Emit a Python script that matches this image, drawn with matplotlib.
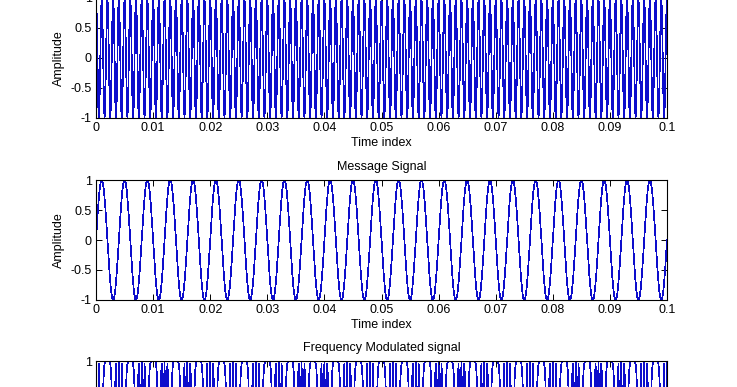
import matplotlib
matplotlib.use("Agg")
import matplotlib.pyplot as plt
import numpy as np

# signal parameters
fs = 10000         # samples per second
t_end = 0.1        # seconds shown
fc = 1000          # carrier frequency
fm = 250           # message frequency (25 cycles in 0.1 s)
beta = 4           # modulation index

x_ticks = [0, 0.01, 0.02, 0.03, 0.04, 0.05, 0.06, 0.07, 0.08, 0.09, 0.1]
x_labels = ["0", "0.01", "0.02", "0.03", "0.04", "0.05", "0.06", "0.07", "0.08", "0.09", "0.1"]
y_ticks = [-1, -0.5, 0, 0.5, 1]
y_labels = ["-1", "-0.5", "0", "0.5", "1"]
titles = [None, "Message Signal", "Frequency Modulated signal"]  # top title is above the crop

t = np.arange(0, t_end + 1 / fs / 2, 1 / fs)
carrier = np.cos(2 * np.pi * fc * t)
message = np.sin(2 * np.pi * fm * t)
fm_sig = np.cos(2 * np.pi * fc * t + beta * np.sin(2 * np.pi * fm * t))
signals = [carrier, message, fm_sig]

plt.rcParams['font.family'] = ['Liberation Sans', 'DejaVu Sans']
plt.rcParams['font.size'] = 9

W, H = 737, 387
fig = plt.figure(figsize=(W / 100, H / 100), dpi=100)

# axes boxes in pixels: (top y of value 1, bottom y of value -1)
boxes = [(-2, 118), (180, 300), (361, 481)]
left, right = 96, 667

for (top, bot), sig, title in zip(boxes, signals, titles):
    ax = fig.add_axes([left / W, 1 - bot / H, (right - left) / W, (bot - top) / H])
    ax.plot(t, sig, color=(0.05, 0.05, 0.8), linewidth=0.5, antialiased=False)
    ax.set_xlim(0, t_end)
    ax.set_ylim(-1, 1)
    ax.set_xticks(x_ticks)
    ax.set_xticklabels(x_labels)
    ax.set_yticks(y_ticks)
    ax.set_yticklabels(y_labels)
    ax.tick_params(direction='in', top=True, right=True, length=4, width=0.7,
                   labelsize=9, pad=3)
    for s in ax.spines.values():
        s.set_linewidth(0.8)
    ax.set_xlabel("Time index", fontsize=9, labelpad=2)
    ax.set_ylabel("Amplitude", fontsize=9, labelpad=4)
    if title:
        ax.set_title(title, fontsize=9, pad=7)

fig.savefig("out.png", dpi=100)
